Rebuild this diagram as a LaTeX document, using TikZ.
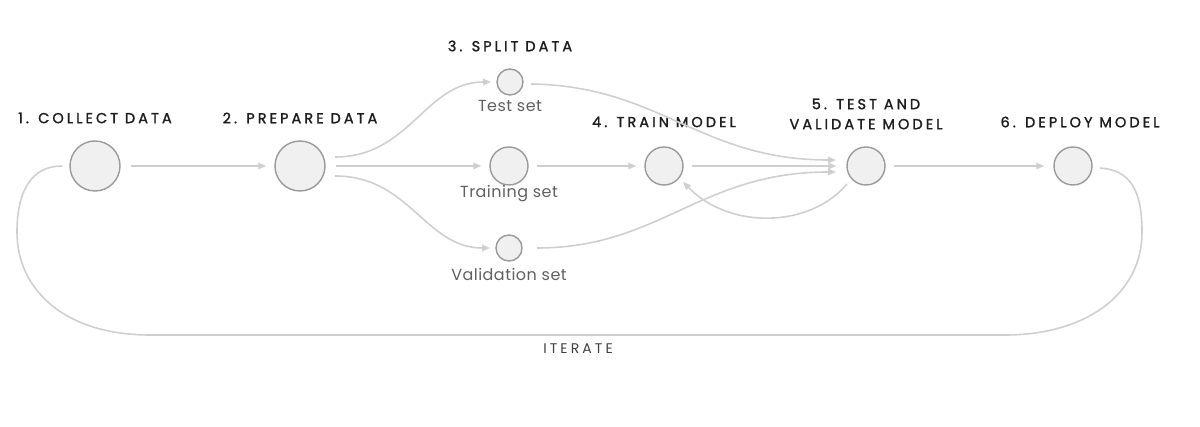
\documentclass[tikz,border=0pt]{standalone}
\usepackage{fontspec}
\setmainfont{Poppins}
\newfontfamily\hfont[LetterSpace=21,FakeBold=1.4]{Poppins}
\newfontfamily\ifont[LetterSpace=22]{Poppins}
\newfontfamily\lfont[LetterSpace=3]{Poppins}
\usetikzlibrary{arrows.meta,calc}
\definecolor{arrowgray}{HTML}{CFCFCF}
\definecolor{circfill}{HTML}{F0F0F0}
\definecolor{circdraw}{HTML}{9A9A9A}
\definecolor{headcol}{HTML}{1E1E1E}
\definecolor{labcol}{HTML}{606060}
\tikzset{
  stage/.style={circle,draw=circdraw,fill=circfill,line width=1.4pt,inner sep=0pt,minimum size=#1},
  heading/.style={font=\hfont\fontsize{14.5}{20}\selectfont,text=headcol,align=center,inner sep=0pt},
  iterlabel/.style={font=\ifont\fontsize{14}{20}\selectfont,text=headcol!85,inner sep=0pt},
  sublabel/.style={font=\lfont\fontsize{16}{17}\selectfont,text=labcol,inner sep=0pt},
  arr/.style={draw=arrowgray,line width=1.6pt,-{Triangle[length=8pt,width=6.5pt]}},
  loopline/.style={draw=arrowgray,line width=1.6pt},
}
\begin{document}
\begin{tikzpicture}[x=1pt,y=-1pt]
\useasboundingbox (0,0) rectangle (1200,427);
% stages
\node[stage=50pt] (collect) at (95,166) {};
\node[stage=50pt] (prepare) at (300,166) {};
\node[stage=26pt] (test) at (510,82) {};
\node[stage=38pt] (train) at (509,166) {};
\node[stage=26pt] (valid) at (509,248) {};
\node[stage=38pt] (model) at (664,166) {};
\node[stage=38pt] (tv) at (866,166) {};
\node[stage=38pt] (deploy) at (1073,166) {};
% labels
\node[heading] (h1) at (95,118) {1. COLLECT DATA};
\node[heading] (h2) at (300,118) {2. PREPARE DATA};
\node[heading] (h3) at (510,46) {3. SPLIT DATA};
\node[heading] (h4) at (664,122) {4. TRAIN MODEL};
\node[heading] (h5) at (866,114) {5. TEST AND\\VALIDATE MODEL};
\node[heading] (h6) at (1080,122) {6. DEPLOY MODEL};
\node[sublabel] (l1) at (510,106) {Test set};
\node[sublabel] (l2) at (509,194) {Training set};
\node[sublabel] (l3) at (509,274) {Validation set};
\node[iterlabel] (it) at (578,349) {ITERATE};
% connectors
\draw[arr,shorten <=10pt,shorten >=8pt] (collect) -- (prepare);
\draw[arr,shorten <=10pt,shorten >=8pt] (prepare) -- (train);
\draw[arr] ($(prepare)+(35,-9)$) .. controls (410,157) and (425,82) .. ($(test)+(-19,0)$);
\draw[arr] ($(prepare)+(35,10)$) .. controls (410,176) and (425,248) .. ($(valid)+(-19,0)$);
\draw[arr,shorten <=8pt,shorten >=8pt] (train) -- (model);
\draw[arr,shorten <=8pt,shorten >=10pt] (model) -- (tv);
\draw[arr] ($(test)+(21,2)$) .. controls (660,86) and (700,160) .. ($(tv)+(-30,-6)$);
\draw[arr] ($(valid)+(28,0)$) .. controls (660,248) and (700,172) .. ($(tv)+(-30,6)$);
\draw[arr] ($(tv)+(-19,18)$) .. controls (810,228) and (730,230) .. ($(model)+(19,16)$);
\draw[arr,shorten <=8pt,shorten >=9pt] (tv) -- (deploy);
\draw[loopline] ($(deploy)+(27,2)$) .. controls (1130,170) and (1142,190) .. (1142,232)
  .. controls (1142,295) and (1085,335) .. (1005,335) -- (150,335)
  .. controls (65,335) and (17,290) .. (17,232)
  .. controls (17,190) and (32,166) .. ($(collect)+(-33,0)$);
\end{tikzpicture}
\end{document}
